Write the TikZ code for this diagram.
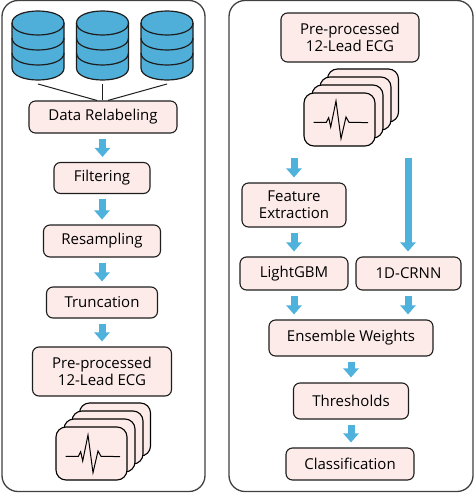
\documentclass[tikz,border=0pt]{standalone}
\usepackage{fontspec}
\setmainfont{Open Sans}
\usetikzlibrary{arrows.meta}
\definecolor{boxfill}{HTML}{FDEBE9}
\definecolor{flowblue}{HTML}{4FB2DD}
\definecolor{dbblue}{HTML}{4FAFD8}
\definecolor{inkdark}{HTML}{1E1E1E}
\tikzset{
  panel/.style={draw=inkdark!85,line width=1.3pt,rounded corners=16pt,fill=white,inner sep=0pt},
  stepbox/.style={draw=inkdark,line width=1.1pt,rounded corners=6.5pt,fill=boxfill,inner sep=0pt,
    align=center,font=\fontsize{15}{16.8}\selectfont,text=black},
  card/.style={draw=black,line width=1.1pt,rounded corners=10pt,fill=boxfill,inner sep=0pt,
    minimum width=71pt,minimum height=53pt},
  flow/.style={draw=flowblue,line width=7pt,-{Triangle[width=15pt,length=9pt]},shorten <=5pt,shorten >=5pt},
  dbshape/.style={draw=inkdark,line width=1.2pt,fill=dbblue},
  link/.style={draw=inkdark,line width=1pt},
  trace/.style={draw=black,line width=1pt,line join=miter}
}
% box: name, cx, cy, w, h, text
\newcommand{\stepnode}[6]{\node[stepbox,minimum width=#4pt,minimum height=#5pt] (#1) at (#2,#3) {#6};}
% database: name, cx
\newcommand{\dbcyl}[2]{%
  \begin{scope}[shift={(#2,0)}]
    \path[dbshape] (-26,23) -- (-26,68) .. controls (-26,84) and (26,84) .. (26,68) -- (26,23)
      .. controls (26,7) and (-26,7) .. (-26,23) -- cycle;
    \path[dbshape,fill=none] (-26,23) .. controls (-26,39) and (26,39) .. (26,23);
    \path[dbshape,fill=none] (-26,38) .. controls (-26,54) and (26,54) .. (26,38);
    \path[dbshape,fill=none] (-26,53) .. controls (-26,69) and (26,69) .. (26,53);
    \coordinate (#1) at (0,84);
  \end{scope}}
% stack: name, x of front card left, y of front card top
\newcommand{\ecgstack}[3]{%
  \begin{scope}[shift={(#2,#3)}]
    \node[card] (#1d) at (59,2.5) {};
    \node[card] (#1c) at (51.5,10.5) {};
    \node[card] (#1b) at (43.5,18.5) {};
    \node[card] (#1a) at (35.5,26.5) {};
    \path[trace] (9.7,29.3) -- (22.3,29.3) -- (24.7,24.7) -- (26.7,34) -- (32,8) -- (37,45.7)
      -- (42,24) -- (45,29.3) -- (64,29.6);
  \end{scope}}
\begin{document}
\begin{tikzpicture}[x=1pt,y=-1pt]
\useasboundingbox (0,0) rectangle (474,493);
\node[panel,minimum width=203pt,minimum height=491pt] (leftpanel) at (103.5,246) {};
\node[panel,minimum width=244pt,minimum height=491pt] (rightpanel) at (351,246) {};

\dbcyl{dba}{38}
\dbcyl{dbb}{102.5}
\dbcyl{dbc}{167}

\stepnode{relabel}{103}{117}{148}{32}{Data Relabeling}
\stepnode{filter}{102}{178}{96}{31}{Filtering}
\stepnode{resample}{102}{241}{117}{32}{Resampling}
\stepnode{trunc}{102}{302.5}{111}{31}{Truncation}
\stepnode{preL}{102}{371.5}{139}{49}{Pre-processed\\12-Lead ECG}
\ecgstack{sl}{56}{427}

\stepnode{preR}{350}{37.5}{138}{49}{Pre-processed\\12-Lead ECG}
\ecgstack{sr}{304}{93}
\stepnode{feat}{294}{205}{104}{44}{Feature\\Extraction}
\stepnode{lgbm}{294}{273.5}{108}{33}{LightGBM}
\stepnode{crnn}{408.5}{273.5}{105}{33}{1D-CRNN}
\stepnode{ens}{351}{338}{164}{36}{Ensemble Weights}
\stepnode{thr}{351}{401}{115}{36}{Thresholds}
\stepnode{cls}{350}{464}{128}{32}{Classification}

\draw[link] (dba) -- ([xshift=-6pt]relabel.north);
\draw[link] (dbb) -- (dbb |- relabel.north);
\draw[link] (dbc) -- ([xshift=5pt]relabel.north);

\draw[flow] (dbb |- relabel.south) -- (dbb |- filter.north);
\draw[flow] (filter.south) -- (filter.south |- resample.north);
\draw[flow] (resample.south) -- (resample.south |- trunc.north);
\draw[flow] (trunc.south) -- (trunc.south |- preL.north);

\coordinate (fa) at (294,153);
\coordinate (fb) at (408,153);
\draw[flow] (fa) -- (fa |- feat.north);
\draw[flow] (fb) -- (fb |- crnn.north);
\draw[flow] (feat.south) -- (feat.south |- lgbm.north);
\draw[flow] (lgbm.south) -- (lgbm.south |- ens.north);
\draw[flow] (fb |- crnn.south) -- (fb |- ens.north);
\draw[flow] (ens.south) -- (ens.south |- thr.north);
\draw[flow] (thr.south) -- (thr.south |- cls.north);
\end{tikzpicture}
\end{document}
